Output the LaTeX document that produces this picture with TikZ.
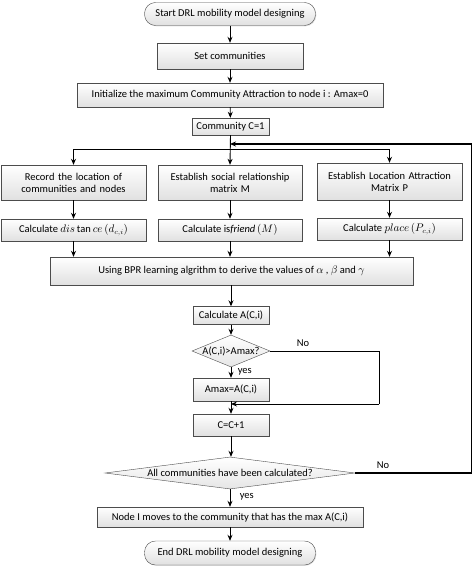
\documentclass[tikz,border=0pt]{standalone}
\usepackage{fontspec}
\setmainfont{Carlito}
\usetikzlibrary{shapes.geometric,arrows.meta,shadows}
\begin{document}
\begin{tikzpicture}[x=1pt,y=-1pt,
  font=\fontsize{10.5}{12}\selectfont,
  box/.style={draw=black!70, top color=white, bottom color=black!12, inner sep=1pt, align=center,
     drop shadow={shadow xshift=0.8pt, shadow yshift=-0.8pt, opacity=0.25}},
  term/.style={box, rounded corners=11pt},
  dia/.style={diamond, draw=black!70, top color=white, bottom color=black!10, inner sep=0pt},
  arr/.style={-{Stealth[length=6pt,width=5pt]}, line width=0.9pt},
  fb/.style={line width=1.4pt},
  lab/.style={font=\fontsize{10.5}{12}\selectfont}
]
\useasboundingbox (0,0) rectangle (474,567);
\node[term, minimum width=171, minimum height=23] (start) at (230,14) {Start DRL mobility model designing};
\node[box, minimum width=146, minimum height=26] (set) at (230,56) {Set communities};
\node[box, minimum width=306, minimum height=24] (init) at (230,95) {Initialize the maximum Community Attraction to node i : Amax=0};
\node[box, minimum width=77, minimum height=17] (c1) at (230.5,126.5) {Community C=1};
\node[box, minimum width=145, minimum height=35, text width=140] (rec) at (73.5,182.5) {Record the location of\\communities and nodes};
\node[box, minimum width=144, minimum height=35, text width=140] (soc) at (230,182.5) {Establish social relationship\\matrix M};
\node[box, minimum width=145, minimum height=37, text width=140] (loc) at (389.5,181.5) {Establish Location Attraction\\Matrix P};
\node[box, minimum width=145, minimum height=22] (cd) at (73.5,230) {Calculate $dis\tan ce\left(d_{c,i}\right)$};
\node[box, minimum width=144, minimum height=22] (cm) at (230,230) {Calculate $\mathrm{is}\mathit{friend}\left(M\right)$};
\node[box, minimum width=145, minimum height=22] (cp) at (389.5,229) {Calculate $place\left(P_{c,i}\right)$};
\node[box, minimum width=363, minimum height=28] (bpr) at (231.5,271) {Using BPR learning algrithm to derive the values of $\alpha$ , $\beta$ and $\gamma$};
\node[box, minimum width=76, minimum height=18] (ca) at (231,315.5) {Calculate A(C,i)};
\node[dia, minimum width=78, minimum height=32] (d1) at (231,351) {};
\node[lab] (d1t) at (d1.center) {A(C,i)>Amax?};
\node[box, minimum width=76, minimum height=23] (am) at (231,389.5) {Amax=A(C,i)};
\node[box, minimum width=76, minimum height=22] (cc) at (231,425) {C=C+1};
\node[dia, minimum width=250, minimum height=32] (d2) at (230,473) {};
\node[lab] (d2t) at (d2.center) {All communities have been calculated?};
\node[box, minimum width=266, minimum height=20] (ni) at (230,517) {Node I moves to the community that has the max A(C,i)};
\node[term, minimum width=171, minimum height=24] (end) at (230,553) {End DRL mobility model designing};

\coordinate (br) at (230,149);
\coordinate (fbt) at (230,144);
\coordinate (j1) at (231,404);
\coordinate (r1) at (379,351);
\coordinate (r1b) at (379,404);
\coordinate (r2) at (471.5,473);
\coordinate (r2t) at (471.5,144);

\draw[arr] (start) -- (set);
\draw[arr] (set) -- (init);
\draw[arr] (init) -- (c1);
\draw[arr] (c1.south) -- (soc.north);
\draw[arr] (br) -| (rec.north);
\draw[arr] (br) -| (loc.north);
\draw[arr] (rec) -- (cd);
\draw[arr] (soc) -- (cm);
\draw[arr] (loc) -- (cp);
\draw[arr] (cd.south) -- (cd.south |- bpr.north);
\draw[arr] (cm.south) -- (cm.south |- bpr.north);
\draw[arr] (cp.south) -- (cp.south |- bpr.north);
\draw[arr] (bpr.south -| ca) -- (ca.north);
\draw[arr] (ca) -- (d1.north);
\draw[arr] (d1.south) -- node[right, lab, xshift=3pt, yshift=1pt] {yes} (am);
\draw[arr] (am) -- (cc);
\draw[line width=0.9pt] (d1.east) -- (r1) -- (r1b);
\draw[arr] (r1b) -- (j1);
\node[lab] (no1) at (303,343) {No};
\draw[arr] (cc.south) -- (d2.north -| cc);
\draw[arr] (d2.south) -- node[right, lab, xshift=6pt, yshift=1pt] {yes} (ni);
\draw[arr] (ni) -- (end);
\draw[fb] (d2.east) -- (r2) -- (r2t);
\draw[fb, -{Stealth[length=6pt,width=5pt]}] (r2t) -- (fbt);
\node[lab] (no2) at (383,465) {No};
\end{tikzpicture}
\end{document}
